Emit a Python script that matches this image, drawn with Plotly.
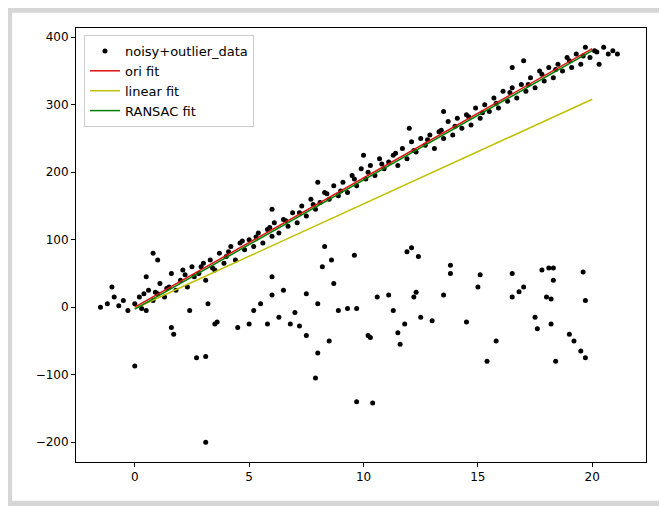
import plotly.graph_objects as go

inlier_x = [-1.5, -1.2, -1.0, -0.9, -0.7, -0.5, -0.3, 0.0, 0.2, 0.4, 0.5, 0.6, 0.8, 1.0, 1.1, 1.3, 1.5, 1.6,
            1.8, 2.0, 2.1, 2.3, 2.5, 2.6, 2.8, 3.0, 3.1, 3.3, 3.5, 3.7, 3.9, 4.0, 4.2, 4.4, 4.6, 4.8, 5.0, 5.2,
            5.4, 5.6, 5.8, 6.0, 6.1, 6.3, 6.5, 6.7, 6.9, 7.1, 7.3, 7.5, 7.7, 7.9, 8.1, 8.3, 8.5, 8.7, 8.9, 9.1,
            9.3, 9.5, 9.7, 9.9, 10.1, 10.3, 10.5, 10.7, 10.9, 11.1, 11.3, 11.5, 11.7, 11.9, 12.1, 12.3, 12.5,
            12.7, 12.9, 13.1, 13.3, 13.5, 13.7, 13.9, 14.1, 14.3, 14.5, 14.7, 14.9, 15.1, 15.3, 15.5, 15.7,
            15.9, 16.1, 16.3, 16.5, 16.7, 16.9, 17.1, 17.3, 17.5, 17.7, 17.9, 18.1, 18.3, 18.5, 18.7, 18.9,
            19.1, 19.3, 19.5, 19.7, 19.9, 20.1, 20.3, 20.5, 20.7, 20.9, 21.1, 8.0, 12.0, 13.5, 16.5, 17.0,
            10.0, 6.0, 0.3, 0.9, 1.4, 2.2, 2.9, 3.4, 4.1, 4.7, 5.3, 5.9, 6.6, 7.2, 7.8, 8.4, 9.0, 9.6, 10.2,
            10.8, 11.4, 12.2, 12.8, 13.4, 14.0, 14.6, 15.2, 15.8, 16.4, 17.2, 17.8, 18.4, 19.0, 19.6, 20.2]
inlier_y = [0, 5, 30, 15, 2, 10, -5, 5, 15, 20, -5, 25, 10, 20, 35, 15, 30, 50,
            25, 40, 55, 30, 60, 45, 50, 65, 40, 70, 55, 80, 65, 75, 90, 70, 95, 85, 100, 90,
            110, 95, 115, 105, 125, 110, 130, 120, 140, 125, 150, 135, 160, 145, 155, 170, 160, 180, 165, 185,
            170, 195, 180, 205, 190, 210, 195, 220, 205, 215, 225, 210, 235, 220, 245, 230, 250,
            240, 255, 235, 260, 250, 275, 255, 280, 265, 285, 270, 295, 280, 300, 290, 310,
            295, 320, 305, 325, 310, 330, 320, 340, 325, 350, 335, 355, 340, 360, 350, 370,
            355, 375, 360, 385, 370, 380, 360, 385, 375, 380, 375, 185, 265, 290, 355, 365,
            225, 145, -2, 22, 28, 48, 60, 58, 82, 98, 104, 118, 128, 140, 152, 168, 172, 190, 200,
            212, 228, 232, 248, 262, 268, 282, 288, 302, 318, 330, 345, 352, 365, 372, 378]

# uitschieters
outlier_x = [0.0, 0.8, 1.6, 1.7, 2.7, 3.1, 3.1, 3.2, 3.5, 3.6, 4.5, 5.0, 5.2, 5.5, 5.8, 6.0, 6.0, 6.3, 6.5,
             6.8, 7.0, 7.2, 7.5, 7.5, 7.9, 8.0, 8.0, 8.2, 8.3, 8.5, 8.6, 8.7, 8.9, 9.3, 9.6, 9.7, 9.7, 10.2,
             10.3, 10.4, 10.6, 11.1, 11.3, 11.5, 11.6, 11.8, 11.9, 12.1, 12.2, 12.3, 12.4, 12.5, 13.0, 13.5,
             13.8, 13.8, 14.5, 15.0, 15.1, 15.4, 15.8, 16.5, 16.5, 16.8, 17.0, 17.5, 17.6, 17.8, 18.0, 18.1,
             18.2, 18.2, 18.3, 18.3, 18.4, 19.0, 19.2, 19.5, 19.7, 19.6, 19.7, 1.0, 2.4, 0.5]
outlier_y = [-87, 80, -30, -40, -75, -73, -200, 5, -25, -22, -30, -25, -5, 5, -25, 45, 18, -15, 25,
             -25, -8, -28, 20, -42, -105, -68, 5, 60, 90, -50, 70, 35, -5, -2, 77, -140, -2, -42,
             -45, -142, 15, 18, -5, -38, -55, -25, 82, 88, 15, 22, 75, -15, -20, 18,
             62, 50, -22, 30, 48, -80, -50, 15, 50, 23, 30, -15, -32, 55, 15, 58,
             -25, 12, 40, 58, -80, -40, -50, -65, -75, 52, 10, 70, -5, 45]

# fitlijnen
fit_x = [0, 20]
ori_y = [0, 383]
linear_y = [-2, 308]
ransac_y = [-3, 380]

fig = go.Figure()
fig.add_trace(go.Scatter(x=inlier_x + outlier_x, y=inlier_y + outlier_y, mode='markers',
                         marker=dict(color='black', size=5), name='noisy+outlier_data'))
fig.add_trace(go.Scatter(x=fit_x, y=ori_y, mode='lines', line=dict(color='#e01010', width=1.5), name='ori fit'))
fig.add_trace(go.Scatter(x=fit_x, y=linear_y, mode='lines', line=dict(color='#bfbf00', width=1.5), name='linear fit'))
fig.add_trace(go.Scatter(x=fit_x, y=ransac_y, mode='lines', line=dict(color='#008000', width=1.5), name='RANSAC fit'))

ax = dict(showgrid=False, zeroline=False, showline=True, linecolor='black', linewidth=1, mirror=True,
          ticks='outside', ticklen=4, tickcolor='black')
# pagina heeft 8px body-marge, dus alles 8px kleiner/verschoven
fig.update_layout(
    width=659, height=498,
    margin=dict(l=68, r=21, t=20, b=44),
    paper_bgcolor='#d6d6d6', plot_bgcolor='white',
    font=dict(family='DejaVu Sans', size=12, color='black'),
    showlegend=True,
    legend=dict(x=0.014, y=0.984, xanchor='left', yanchor='top', bgcolor='white',
                bordercolor='#cccccc', borderwidth=1, font=dict(size=13)),
    xaxis=dict(range=[-2.57, 22.35], tickvals=[0, 5, 10, 15, 20], **ax),
    yaxis=dict(range=[-229.4, 413.6], tickvals=[-200, -100, 0, 100, 200, 300, 400], **ax),
    shapes=[dict(type='rect', xref='paper', yref='paper', x0=-0.112, x1=1.025, y0=-0.089, y1=1.035,
                 fillcolor='white', line=dict(width=0), layer='below')],
)
fig.write_html("out.html")
